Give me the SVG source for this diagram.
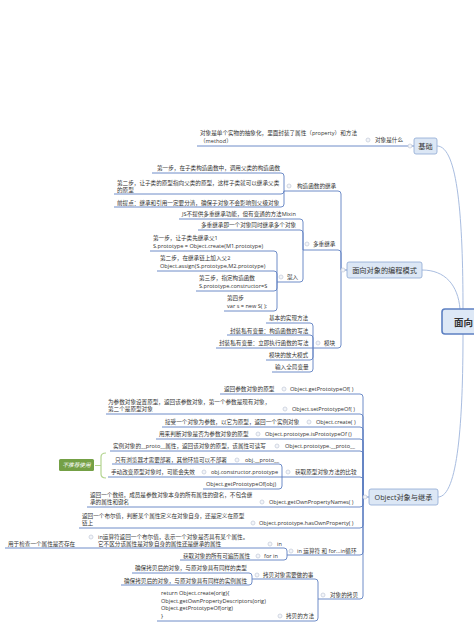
<svg xmlns="http://www.w3.org/2000/svg" width="474" height="627" viewBox="0 0 474 627">
<style>
text{font-family:"Open Sans","Noto Sans CJK SC",sans-serif;fill:#333}
.t{font-size:5.6px}
.b{font-size:7.2px;text-anchor:middle}
.box{fill:#dce7f5;stroke:#8ea8d3;stroke-width:0.8}
.root{fill:#dde8f6;stroke:#5d80c2;stroke-width:1.6}
.ln{fill:none;stroke:#5f80c2;stroke-width:0.9}
.rc{fill:none;stroke:#a9bde0;stroke-width:1}
.c{fill:#f3f5f9;stroke:#c3cad8;stroke-width:0.7}
.br{fill:none;stroke:#b3d48f;stroke-width:1.2}
</style>
<rect width="474" height="627" fill="#ffffff"/>
<g id="connectors">
<path class="rc" d="M437 146 C458 146 463 220 463 309"/>
<path class="rc" d="M422 270 C445 270 458 285 460 309"/>
<path class="rc" d="M438 497 C458 497 463 420 463 334"/>
<path class="ln" d="M197 146 H414"/>
<path class="ln" d="M284 191 H338 Q341 191 341 194 V270"/>
<path class="ln" d="M303 250 H338 Q341 250 341 253 V270"/>
<path class="ln" d="M313 348 H338 Q341 348 341 345 V270"/>
<path class="ln" d="M341 270 H347"/>
<path class="ln" d="M152 173 H281 Q284 173 284 176 V191"/>
<path class="ln" d="M114 194 H281 Q284 194 284 191"/>
<path class="ln" d="M114 207 H281 Q284 207 284 204 V191"/>
<path class="ln" d="M179 219 H300 Q303 219 303 222 V250"/>
<path class="ln" d="M198 230 H300 Q303 230 303 233 V250"/>
<path class="ln" d="M277 282 H300 Q303 282 303 279 V250"/>
<path class="ln" d="M150 251 H274 Q277 251 277 254 V282"/>
<path class="ln" d="M157 271 H274 Q277 271 277 274 V282"/>
<path class="ln" d="M196 291 H274 Q277 291 277 288 V282"/>
<path class="ln" d="M224 311 H274 Q277 311 277 308 V282"/>
<path class="ln" d="M266 323 H310 Q313 323 313 326 V348"/>
<path class="ln" d="M227 335 H310 Q313 335 313 338 V348"/>
<path class="ln" d="M216 348 H313"/>
<path class="ln" d="M266 360 H310 Q313 360 313 357 V348"/>
<path class="ln" d="M272 372 H310 Q313 372 313 369 V348"/>
<path class="ln" d="M282 394 H360 Q363 394 363 397 V497"/>
<path class="ln" d="M283 414 H360 Q363 414 363 417 V497"/>
<path class="ln" d="M307 427 H360 Q363 427 363 430 V497"/>
<path class="ln" d="M256 439 H360 Q363 439 363 442 V497"/>
<path class="ln" d="M275 451 H360 Q363 451 363 454 V497"/>
<path class="ln" d="M282 477 H360 Q363 477 363 480 V497"/>
<path class="ln" d="M260 507 H360 Q363 507 363 504 V497"/>
<path class="ln" d="M251 528 H360 Q363 528 363 525 V497"/>
<path class="ln" d="M287 555 H360 Q363 555 363 552 V497"/>
<path class="ln" d="M318 599 H360 Q363 599 363 596 V497"/>
<path class="ln" d="M363 497 H369"/>
<path class="ln" d="M220 394 H282"/>
<path class="ln" d="M106 414 H283"/>
<path class="ln" d="M162 427 H307"/>
<path class="ln" d="M156 439 H256"/>
<path class="ln" d="M110 451 H275"/>
<path class="ln" d="M235 464 H279 Q282 464 282 467 V477"/>
<path class="ln" d="M202 477 H282"/>
<path class="ln" d="M203 489 H279 Q282 489 282 486 V477"/>
<path class="ln" d="M112 464 H235"/>
<path class="ln" d="M108 477 H202"/>
<path class="ln" d="M87 507 H260"/>
<path class="ln" d="M79 528 H251"/>
<path class="ln" d="M268 548 H284 Q287 548 287 551 V555"/>
<path class="ln" d="M256 560 H284 Q287 560 287 557 V555"/>
<path class="ln" d="M5 548 H268"/>
<path class="ln" d="M180 560 H256"/>
<path class="ln" d="M252 579 H315 Q318 579 318 582 V599"/>
<path class="ln" d="M276 621 H315 Q318 621 318 618 V599"/>
<path class="ln" d="M132 573 H249 Q252 573 252 576 V579"/>
<path class="ln" d="M121 585 H249 Q252 585 252 582 V579"/>
<path class="ln" d="M157 621 H276"/>
</g>
<g id="circles">
<circle class="c" cx="368" cy="140" r="2"/><circle class="c" cx="410" cy="146" r="2"/>
<circle class="c" cx="343" cy="270" r="2"/><circle class="c" cx="289" cy="186" r="2"/>
<circle class="c" cx="307" cy="244" r="2"/><circle class="c" cx="281" cy="277" r="2"/>
<circle class="c" cx="318" cy="343" r="2"/><circle class="c" cx="365" cy="497" r="2"/>
<circle class="c" cx="284" cy="389" r="2"/><circle class="c" cx="285" cy="409" r="2"/>
<circle class="c" cx="309" cy="422" r="2"/><circle class="c" cx="258" cy="434" r="2"/>
<circle class="c" cx="277" cy="446" r="2"/><circle class="c" cx="288" cy="472" r="2"/>
<circle class="c" cx="237" cy="460" r="2"/><circle class="c" cx="204" cy="472" r="2"/>
<circle class="c" cx="262" cy="502" r="2"/><circle class="c" cx="253" cy="523" r="2"/>
<circle class="c" cx="291" cy="551" r="2"/><circle class="c" cx="270" cy="544" r="2"/>
<circle class="c" cx="91" cy="537" r="2"/><circle class="c" cx="258" cy="556" r="2"/>
<circle class="c" cx="323" cy="595" r="2"/><circle class="c" cx="257" cy="575" r="2"/>
<circle class="c" cx="280" cy="616" r="2"/>
</g>
<g id="root"><rect class="root" x="442" y="309" width="50" height="25" rx="3"/><text x="454" y="325.5" style="font-size:9.5px;font-weight:bold">面向</text></g>
<g id="jichu"><rect class="box" x="414" y="138" width="23" height="16" rx="2"/><text class="b" x="425.5" y="148.6">基础</text></g>
<g id="oop"><rect class="box" x="347" y="262" width="75" height="16" rx="2"/><text class="b" x="384.5" y="272.6">面向对象的编程模式</text></g>
<g id="objinherit"><rect class="box" x="369" y="489" width="69" height="16" rx="2"/><text class="b" x="403.5" y="499.6">Object对象与继承</text></g>
<g id="n-what"><text class="t" x="375" y="142">对象是什么</text></g>
<g id="n-what-d"><text class="t" x="200" y="135">对象是单个实物的抽象化，里面封装了属性（property）和方法</text><text class="t" x="200" y="142.5">（method）</text></g>
<g id="n-ctor"><text class="t" x="297" y="188">构造函数的继承</text></g>
<g id="n-ctor1"><text class="t" x="157" y="170">第一步，在子类构造函数中，调用父类的构造函数</text></g>
<g id="n-ctor2"><text class="t" x="117" y="185">第二步，让子类的原型指向父类的原型，这样子类就可以继承父类</text><text class="t" x="117" y="192">的原型</text></g>
<g id="n-ctor3"><text class="t" x="117" y="205">前提点：继承和引用一定要分清，确保子对象不会影响到父级对象</text></g>
<g id="n-multi"><text class="t" x="313" y="246">多重继承</text></g>
<g id="n-multi1"><text class="t" x="182" y="216">JS不提供多重继承功能，但有变通的方法Mixin</text></g>
<g id="n-multi2"><text class="t" x="201" y="227">多重继承即一个对象同时继承多个对象</text></g>
<g id="n-mixin"><text class="t" x="287" y="279">混入</text></g>
<g id="n-mix1"><text class="t" x="153" y="240">第一步，让子类先继承父1</text><text class="t" x="153" y="248">S.prototype = Object.create(M1.prototype)</text></g>
<g id="n-mix2"><text class="t" x="160" y="260">第二步，在继承链上加入父2</text><text class="t" x="160" y="268">Object.assign(S.prototype,M2.prototype)</text></g>
<g id="n-mix3"><text class="t" x="199" y="280">第三步，指定构造函数</text><text class="t" x="199" y="288">S.prototype.constructor=S</text></g>
<g id="n-mix4"><text class="t" x="227" y="300">第四步</text><text class="t" x="227" y="308">var s = new S( );</text></g>
<g id="n-module"><text class="t" x="324" y="345">模块</text></g>
<g id="n-mod1"><text class="t" x="269" y="320">基本的实现方法</text></g>
<g id="n-mod2"><text class="t" x="230" y="333">封装私有变量：构造函数的写法</text></g>
<g id="n-mod3"><text class="t" x="219" y="345">封装私有变量：立即执行函数的写法</text></g>
<g id="n-mod4"><text class="t" x="269" y="357">模块的放大模式</text></g>
<g id="n-mod5"><text class="t" x="275" y="369">输入全局变量</text></g>
<g id="n-getp"><text class="t" x="290" y="391">Object.getPrototypeOf( )</text></g>
<g id="n-getp-d"><text class="t" x="224" y="391">返回参数对象的原型</text></g>
<g id="n-setp"><text class="t" x="292" y="411">Object.setPrototypeOf( )</text></g>
<g id="n-setp-d"><text class="t" x="108" y="404">为参数对象设置原型，返回该参数对象，第一个参数是现有对象，</text><text class="t" x="108" y="411">第二个是原型对象</text></g>
<g id="n-create"><text class="t" x="316" y="424">Object.create( )</text></g>
<g id="n-create-d"><text class="t" x="165" y="424">接受一个对象为参数，以它为原型，返回一个实例对象</text></g>
<g id="n-isp"><text class="t" x="265" y="436">Object.prototype.isPrototypeOf ()</text></g>
<g id="n-isp-d"><text class="t" x="159" y="436">用来判断对象是否为参数对象的原型</text></g>
<g id="n-proto"><text class="t" x="285" y="448">Object.prototype.__proto__</text></g>
<g id="n-proto-d"><text class="t" x="113" y="448">实例对象的__proto__属性，返回该对象的原型，该属性可读写</text></g>
<g id="n-compare"><text class="t" x="295" y="474">获取原型对象方法的比较</text></g>
<g id="n-cmp1"><text class="t" x="245" y="462">obj.__proto__</text></g>
<g id="n-cmp1-d"><text class="t" x="115" y="462">只有浏览器才需要部署，其他环境可以不部署</text></g>
<g id="n-cmp2"><text class="t" x="211" y="474">obj.constructor.prototype</text></g>
<g id="n-cmp2-d"><text class="t" x="111" y="474">手动改变原型对象时，可能会失效</text></g>
<g id="n-cmp3"><text class="t" x="206" y="486">Object.getPrototypeOf(obj)</text></g>
<g id="n-summary"><path class="br" d="M106 453 Q101 453 101 457 V474 Q101 478 106 478 M101 465.5 H95"/><rect x="59" y="459" width="35" height="12" rx="1.5" fill="#74a045"/><text x="76.5" y="467" style="font-size:5.6px;fill:#ffffff;font-style:italic;text-anchor:middle">不推荐使用</text></g>
<g id="n-names"><text class="t" x="269" y="504">Object.getOwnPropertyNames( )</text></g>
<g id="n-names-d"><text class="t" x="90" y="497">返回一个数组，成员是参数对象本身的所有属性的键名，不包含继</text><text class="t" x="90" y="504">承的属性和键名</text></g>
<g id="n-hasown"><text class="t" x="259" y="525">Object.prototype.hasOwnProperty( )</text></g>
<g id="n-hasown-d"><text class="t" x="82" y="518">返回一个布尔值，判断某个属性定义在对象自身，还是定义在原型</text><text class="t" x="82" y="525">链上</text></g>
<g id="n-inloop"><text class="t" x="297" y="553">in 运算符 和 for...in循环</text></g>
<g id="n-in"><text class="t" x="277" y="546">in</text></g>
<g id="n-in-d"><text class="t" x="98" y="539">in运算符返回一个布尔值，表示一个对象是否具有某个属性。</text><text class="t" x="98" y="546">它不区分该属性是对象自身的属性还是继承的属性</text></g>
<g id="n-in-use"><text class="t" x="8" y="546">用于检查一个属性是否存在</text></g>
<g id="n-forin"><text class="t" x="264" y="558">for in</text></g>
<g id="n-forin-d"><text class="t" x="183" y="558">获取对象的所有可遍历属性</text></g>
<g id="n-copy"><text class="t" x="330" y="597">对象的拷贝</text></g>
<g id="n-copyneed"><text class="t" x="263" y="577">拷贝对象需要做的事</text></g>
<g id="n-need1"><text class="t" x="135" y="570">确保拷贝后的对象，与原对象具有同样的类型</text></g>
<g id="n-need2"><text class="t" x="124" y="583">确保拷贝后的对象，与原对象具有同样的实例属性</text></g>
<g id="n-copyway"><text class="t" x="286" y="618">拷贝的方法</text></g>
<g id="n-way-d"><text class="t" x="161" y="595">return Object.create(orig){</text><text class="t" x="161" y="603">Object.getOwnPropertyDescriptors(orig)</text><text class="t" x="161" y="610">Object.getPrototypeOf(orig)</text><text class="t" x="161" y="618">}</text></g>
</svg>
